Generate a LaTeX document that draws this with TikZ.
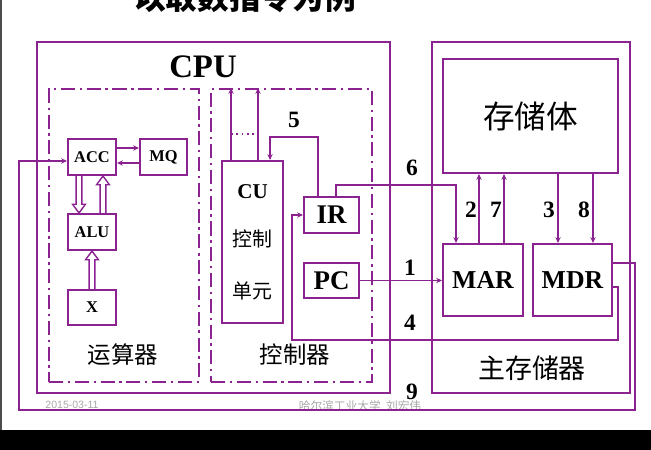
\documentclass[tikz,border=0pt]{standalone}
\usepackage{fontspec}
\setmainfont{Liberation Serif}
\newfontfamily\cjk{Noto Sans CJK SC}
\newfontfamily\footsans{Liberation Sans}
\usetikzlibrary{arrows.meta,positioning,fit,calc}
\definecolor{regPurple}{HTML}{8A2290}
\definecolor{footGrey}{HTML}{A8A8A8}
\newcommand{\hollowarrow}[2]{%
  \coordinate (hb) at ($(#2)!7.5pt!(#1)$);
  \draw[hollow] ($(#1)!2.5pt!90:(#2)$) -- ($(hb)!2.5pt!90:(#2)$)
    -- ($(hb)!5.5pt!90:(#2)$) -- (#2) -- ($(hb)!5.5pt!-90:(#2)$)
    -- ($(hb)!2.5pt!-90:(#2)$) -- ($(#1)!2.5pt!-90:(#2)$);}

\begin{document}
\begin{tikzpicture}[
    x=0.3mm, y=-0.3mm,
    >={Stealth[length=5pt,width=4.5pt]},
    reg/.style={draw=regPurple, line width=1.7pt, inner sep=0pt,
                font=\bfseries\fontsize{14}{16}\selectfont},
    frame/.style={draw=regPurple, line width=2.5pt, inner sep=0pt},
    unit/.style={draw=regPurple, line width=1.7pt, inner sep=0pt,
                 dash pattern=on 12pt off 4pt on 2pt off 4pt},
    bus/.style={draw=regPurple, line width=1.6pt},
    hollow/.style={draw=regPurple, line width=1.2pt, line join=miter},
    num/.style={font=\bfseries\fontsize{20}{24}\selectfont},
    cjklbl/.style={font=\cjk\fontsize{20}{24}\selectfont},
  ]
  \useasboundingbox (0,0) rectangle (651,450);
  \fill[black] (0,430) rectangle (651,450);
  \fill[black!70] (0,0) rectangle (2,430);

  \node[font=\cjk\bfseries\fontsize{27}{30}\selectfont] (title) at (245,-3) {以取数指令为例};

  % frames
  \node[frame, fit={(37,42) (390,393)}] (cpu) {};
  \node[font=\bfseries\fontsize{28}{32}\selectfont] (cpuname) at (203,67) {CPU};
  \node[unit, fit={(49,89) (199,382)}] (aluu) {};
  \node[unit, fit={(211,89) (372,382)}] (ctlu) {};
  \node[frame, fit={(432,42) (630,393)}] (mem) {};
  \node[reg, minimum width=52.5mm, minimum height=34.2mm,
        font=\cjk\fontsize{27}{30}\selectfont] (body) at (530.5,116) {存储体};

  % registers
  \node[reg, minimum width=14.4mm, minimum height=10.8mm] (acc) at (92,157) {ACC};
  \node[reg, minimum width=14.1mm, minimum height=10.8mm] (mq) at (163.5,157) {MQ};
  \node[reg, minimum width=14.4mm, minimum height=10.8mm] (alu) at (92,232) {ALU};
  \node[reg, minimum width=14.4mm, minimum height=10.5mm] (xreg) at (92,307.5) {X};
  \node[reg, minimum width=18.3mm, minimum height=48.6mm, align=center,
        font=\fontsize{17}{20}\selectfont] (cu) at (252.5,242)
    {\textbf{\fontsize{18}{20}\selectfont CU}\\[7.5mm]{\cjk 控制}\\[8.5mm]{\cjk 单元}};
  \node[reg, minimum width=16.5mm, minimum height=10.8mm,
        font=\bfseries\fontsize{23}{26}\selectfont] (ir) at (331.5,215) {IR};
  \node[reg, minimum width=16.5mm, minimum height=10.5mm,
        font=\bfseries\fontsize{23}{26}\selectfont] (pc) at (331.5,280.5) {PC};
  \node[reg, minimum width=24mm, minimum height=21.6mm,
        font=\bfseries\fontsize{22}{26}\selectfont] (mar) at (483,280) {MAR};
  \node[reg, minimum width=23.7mm, minimum height=21.6mm,
        font=\bfseries\fontsize{22}{26}\selectfont] (mdr) at (572.5,280) {MDR};

  \node[cjklbl] (aluname) at (123,355) {运算器};
  \node[cjklbl] (ctlname) at (295,355) {控制器};
  \node[cjklbl, font=\cjk\fontsize{23}{26}\selectfont] (memname) at (532,368) {主存储器};

  % step numbers
  \node[num] (n1) at (410,268) {1};
  \node[num] (n2) at (471,210) {2};
  \node[num] (n3) at (549,210) {3};
  \node[num] (n4) at (410,323) {4};
  \node[num] (n5) at (294,120) {5};
  \node[num] (n6) at (412,168) {6};
  \node[num] (n7) at (496,210) {7};
  \node[num] (n8) at (584,210) {8};
  \node[num] (n9) at (412,392) {9};

  \node[font=\footsans\fontsize{9}{10}\selectfont, text=footGrey] (date) at (72,405) {2015-03-11};
  \node[font=\cjk\fontsize{10}{12}\selectfont, text=footGrey] (org) at (360,406) {哈尔滨工业大学\ \ 刘宏伟};

  % arithmetic unit
  \draw[bus,->] ([yshift=2.7mm]acc.east) -- ([yshift=2.7mm]mq.west);
  \draw[bus,->] ([yshift=-1.8mm]mq.west) -- ([yshift=-1.8mm]acc.east);
  \coordinate (accdn) at ([xshift=-3.9mm]acc.south);
  \coordinate (aludn) at (accdn |- alu.north);
  \coordinate (aluup) at ([xshift=3.3mm]alu.north);
  \coordinate (accup) at (aluup |- acc.south);
  \hollowarrow{accdn}{aludn}
  \hollowarrow{aluup}{accup}
  \hollowarrow{xreg.north}{alu.south}

  % control unit
  \coordinate (cua) at ([xshift=-6.45mm]cu.north);
  \coordinate (cub) at ([xshift=1.65mm]cu.north);
  \draw[bus,->] (cua) -- (cua |- ctlu.north);
  \draw[bus,->] (cub) -- (cub |- ctlu.north);
  \draw[bus, dash pattern=on 1.5pt off 3pt] ([yshift=7.8mm]cua) -- ([yshift=7.8mm]cub);
  \coordinate (c5) at (270,137);
  \draw[bus,->] ([xshift=-4.05mm]ir.north) |- (c5) -- (c5 |- cu.north);
  \coordinate (c6) at (456,185);
  \draw[bus,->] ([xshift=1.35mm]ir.north) |- (c6) -- (c6 |- mar.north);
  \draw[bus,->] (pc.east) -- (pc.east -| mar.west);

  % memory
  \coordinate (ma2) at ([xshift=-1.2mm]mar.north);
  \coordinate (ma7) at ([xshift=6.3mm]mar.north);
  \draw[bus,->] (ma2) -- (ma2 |- body.south);
  \draw[bus,->] (ma7) -- (ma7 |- body.south);
  \coordinate (md3) at ([xshift=-4.35mm]mdr.north);
  \coordinate (md8) at ([xshift=6.15mm]mdr.north);
  \draw[bus,->] (md3 |- body.south) -- (md3);
  \draw[bus,->] (md8 |- body.south) -- (md8);

  \coordinate (c4r) at (618,340);
  \coordinate (c4l) at (292,340);
  \draw[bus,->] ([yshift=-2.1mm]mdr.east) -| (c4r) -- (c4l) |- (ir.west);
  \coordinate (c9r) at (635,410);
  \coordinate (c9l) at (19,410);
  \draw[bus,->] ([yshift=5.1mm]mdr.east) -| (c9r) -- (c9l) |- ([yshift=-1.2mm]acc.west);
\end{tikzpicture}
\end{document}
